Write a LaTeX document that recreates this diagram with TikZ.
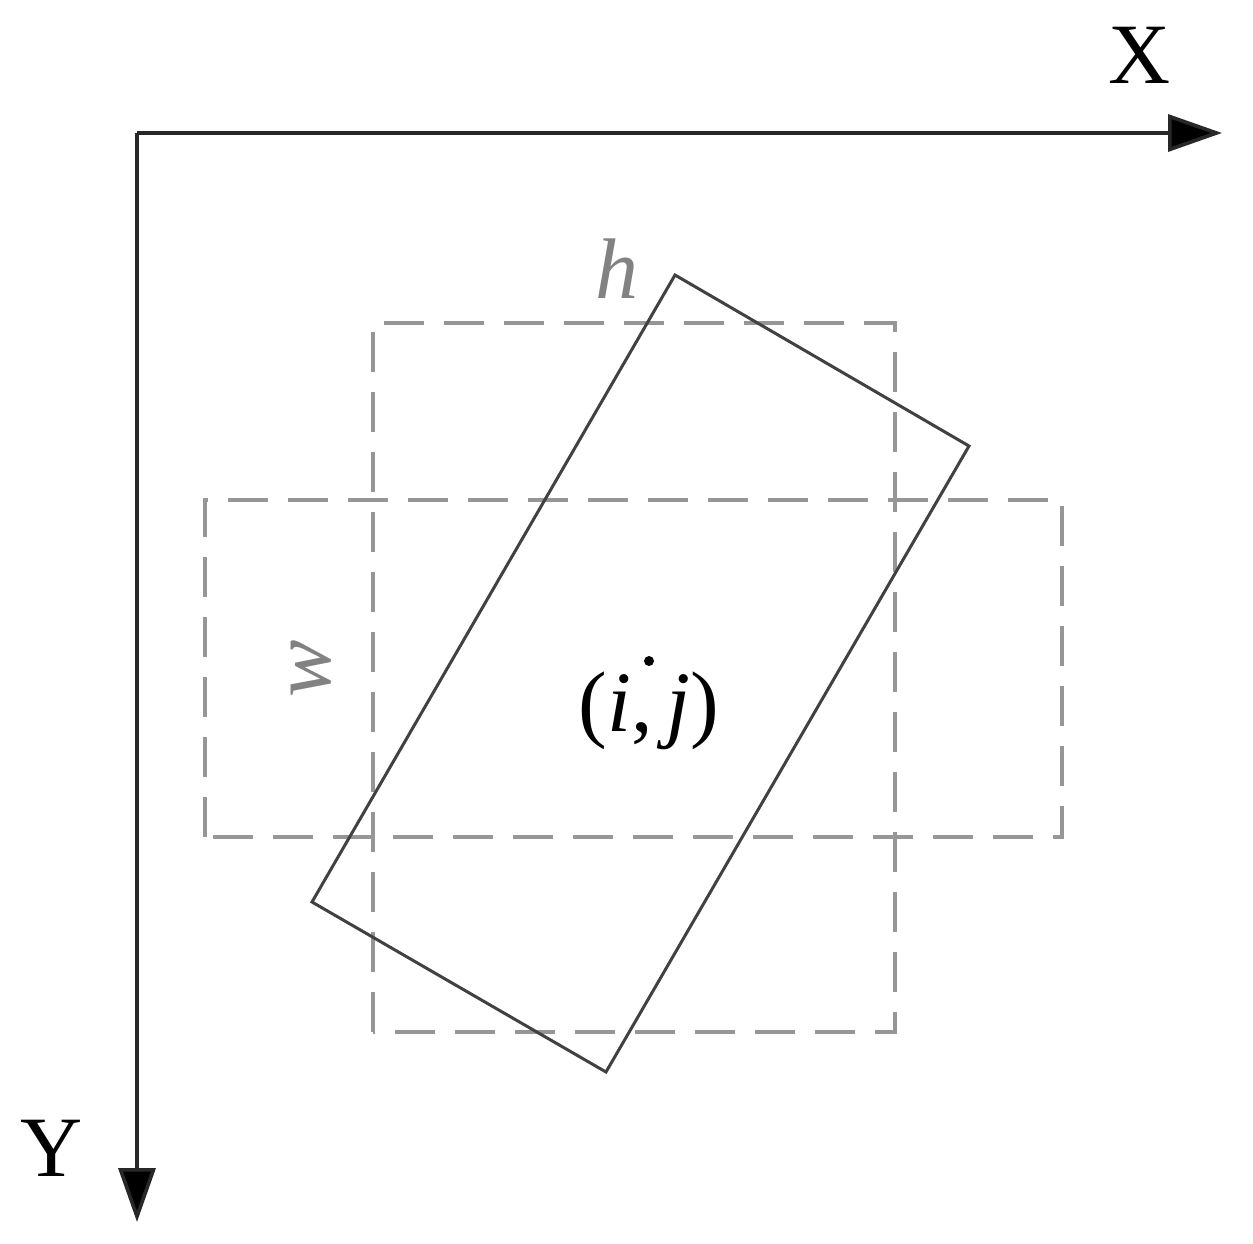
\documentclass[tikz,border=0pt]{standalone}
\usepackage{fontspec}
\setmainfont{Liberation Serif}
\usetikzlibrary{arrows.meta}
\definecolor{axisGray}{RGB}{40, 40, 40}
\definecolor{boxGray}{RGB}{65, 65, 65}
\definecolor{dashGray}{RGB}{150, 150, 150}
\definecolor{labelGray}{RGB}{130, 130, 130}

\begin{document}
\begin{tikzpicture}[x=1pt, y=-1pt]
                    \tikzstyle{axis} = [draw=axisGray, line width=3.6pt, -{Triangle[length=54pt, width=37pt, fill=black]}]
                    \tikzstyle{window} = [draw=dashGray, line width=3.6pt, dash pattern=on 40pt off 20pt]
                    \tikzstyle{box} = [draw=boxGray, line width=3pt, line join=miter]
                    \tikzstyle{big} = [inner sep=0pt, font=\fontsize{86}{90}\selectfont]

                    \useasboundingbox (0, 0) rectangle (1253, 1243);

                    % axes
                    \coordinate (o) at (137, 133);
                    \coordinate (xend) at (1222, 133);
                    \coordinate (yend) at (137, 1222);
                    \draw[axis] (o) -- (xend);
                    \draw[axis] (o) -- (yend);
                    \node[big, anchor=base] (xlab) at (1140, 83) {X};
                    \node[big, anchor=base] (ylab) at (52, 1176) {Y};

                    % dashed windows
                    \draw[window] (373, 1032) -- (373, 323) -- (895, 323) -- (895, 1032) -- cycle;
                    \draw[window] (205, 837) -- (205, 500) -- (1062, 500) -- (1062, 837) -- cycle;

                    % rotated box
                    \coordinate (top) at (675, 275);
                    \coordinate (right) at (969, 446);
                    \coordinate (bottom) at (606, 1072);
                    \coordinate (left) at (312, 902);
                    \draw[box] (top) -- (right) -- (bottom) -- (left) -- cycle;

                    \fill (649, 661) circle (5pt);
                    \node[big, anchor=base] (ij) at (649, 731) {(\textit{i},\,\textit{j})};
                    \node[big, anchor=base, text=labelGray] (hlab) at (617, 298) {\textit{h}};
                    \node[big, anchor=base, text=labelGray, rotate=90] (wlab) at (330, 669) {\textit{w}};
                \end{tikzpicture}
\end{document}
